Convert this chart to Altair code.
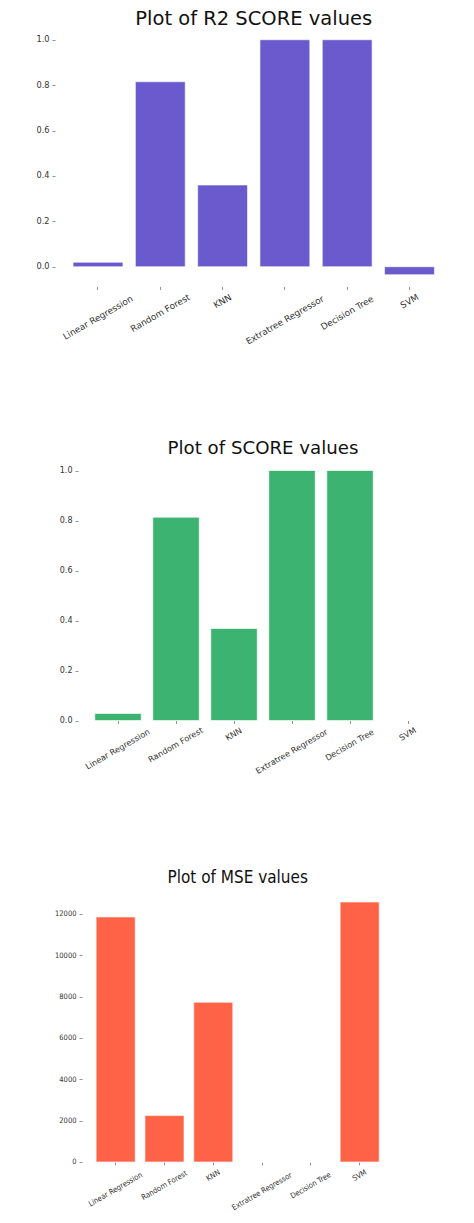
import altair as alt
import pandas as pd

models = ["Linear Regression", "Random Forest", "KNN",
          "Extratree Regressor", "Decision Tree", "SVM"]
r2_scores = [0.02, 0.815, 0.36, 1.0, 1.0, -0.035]
scores = [0.028, 0.813, 0.368, 1.0, 1.0, 0.0]
mse_values = [11855, 2245, 7727, 0, 0, 12580]

score_ticks = [0.0, 0.2, 0.4, 0.6, 0.8, 1.0]
mse_ticks = [0, 2000, 4000, 6000, 8000, 10000, 12000]


def mpl_domain(vals):
    lo, hi = min(min(vals), 0), max(max(vals), 0)
    span = hi - lo
    return [lo - 0.05 * span if lo < 0 else 0, hi + 0.05 * span if hi > 0 else 0]


def spacer(w):
    return alt.Chart(pd.DataFrame({"s": [0]})).mark_rect(opacity=0).encode(
        x=alt.value(0), x2=alt.value(w), y=alt.value(0), y2=alt.value(1)
    ).properties(width=w, height=1)


def panel(values, title, color, step, ppu, ticks, fmt, font, tsize, lsize, ysize, toff):
    dom = mpl_domain(values)
    df = pd.DataFrame({"model": models, "value": values})
    pad_expr = f"{4.3 + 0.39 * lsize:.2f} + {0.132 * lsize:.3f} * length(datum.label)"
    return alt.Chart(df).mark_bar(color=color, stroke="white", strokeWidth=0.6).encode(
        x=alt.X("model:N", sort=models, title=None,
                scale=alt.Scale(paddingInner=0.2, paddingOuter=0.29),
                axis=alt.Axis(labelAngle=-30, labelAlign="center", labelBaseline="middle",
                              labelPadding=alt.ExprRef(pad_expr), labelOverlap=False,
                              tickSize=3, tickColor="#777", tickWidth=0.8, domain=False,
                              labelFont=font, labelFontSize=lsize, labelColor="#333")),
        y=alt.Y("value:Q", title=None,
                scale=alt.Scale(domain=dom, nice=False),
                axis=alt.Axis(values=ticks, format=fmt, domain=False, grid=False,
                              tickSize=3, tickColor="#777", tickWidth=0.8, labelPadding=3,
                              labelFont=font, labelFontSize=ysize, labelColor="#333")),
        y2=alt.datum(0),
    ).properties(
        width=step * 6.38,
        height=(dom[1] - dom[0]) * ppu,
        title=alt.TitleParams(title, font=font, fontSize=tsize, fontWeight="normal",
                              color="#111", anchor="middle", frame="group",
                              baseline="alphabetic", offset=toff),
    )


F = "DejaVu Sans"
FC = "DejaVu Sans Condensed, DejaVu Sans"

p1 = panel(r2_scores, "Plot of R2 SCORE values", "#6A5ACD", 62.3, 227,
           score_ticks, ".1f", F, 19.5, 8.9, 8.2, -16)
p2 = panel(scores, "Plot of SCORE values", "#3CB371", 58, 250,
           score_ticks, ".1f", F, 18.2, 8.2, 8, -14)
p3 = panel(mse_values, "Plot of MSE values", "#FF6347", 48.8, 248 / 12000,
           mse_ticks, "d", FC, 17, 7.6, 7.5, -10.5)

row1 = alt.hconcat(spacer(25), p1, spacing=0)
row2 = alt.hconcat(spacer(48), p2, spacing=0)
row3 = alt.hconcat(spacer(44), p3, spacing=0)

chart = alt.vconcat(alt.vconcat(row1, row2, spacing=91), row3, spacing=92).properties(
    padding={"left": 0, "top": 0, "right": 0, "bottom": 0}
).configure(background="white").configure_view(stroke="transparent")

chart.save("out.html", embed_options={"renderer": "svg", "actions": False})
